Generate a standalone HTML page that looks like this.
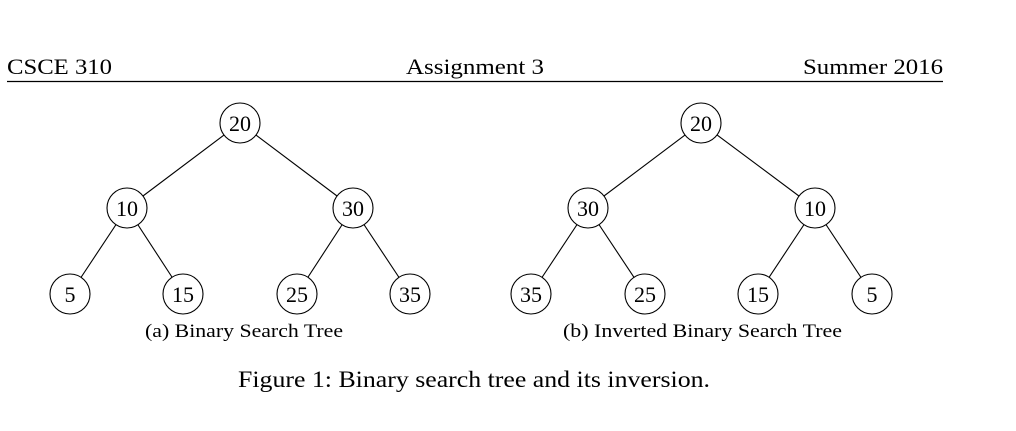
<!DOCTYPE html>
<html><head><style>
body{margin:0;background:#fff;width:1016px;height:426px;overflow:hidden}
text{font-family:"Liberation Serif",serif;fill:#000}
</style></head><body>
<svg width="1016" height="426" xmlns="http://www.w3.org/2000/svg">
<text x="7" y="74" font-size="22" textLength="105" lengthAdjust="spacingAndGlyphs">CSCE 310</text>
<text x="406" y="74" font-size="22" textLength="138" lengthAdjust="spacingAndGlyphs">Assignment 3</text>
<text x="803" y="74" font-size="22" textLength="140" lengthAdjust="spacingAndGlyphs">Summer 2016</text>
<line x1="7" y1="81.5" x2="943" y2="81.5" stroke="#000" stroke-width="1.2"/>
<g stroke="#000" stroke-width="1.1">
<line x1="240" y1="123" x2="127" y2="208"/><line x1="240" y1="123" x2="353" y2="208"/>
<line x1="127" y1="208" x2="70" y2="294"/><line x1="127" y1="208" x2="183" y2="294"/>
<line x1="353" y1="208" x2="297" y2="294"/><line x1="353" y1="208" x2="410" y2="294"/>
<line x1="701" y1="123" x2="588" y2="208"/><line x1="701" y1="123" x2="815" y2="208"/>
<line x1="588" y1="208" x2="531" y2="294"/><line x1="588" y1="208" x2="645" y2="294"/>
<line x1="815" y1="208" x2="758" y2="294"/><line x1="815" y1="208" x2="872" y2="294"/>
</g>
<g stroke="#000" stroke-width="1.1" fill="#fff">
<circle cx="240" cy="123" r="20"/><circle cx="127" cy="208" r="20"/><circle cx="353" cy="208" r="20"/>
<circle cx="70" cy="294" r="20"/><circle cx="183" cy="294" r="20"/><circle cx="297" cy="294" r="20"/><circle cx="410" cy="294" r="20"/>
<circle cx="701" cy="123" r="20"/><circle cx="588" cy="208" r="20"/><circle cx="815" cy="208" r="20"/>
<circle cx="531" cy="294" r="20"/><circle cx="645" cy="294" r="20"/><circle cx="758" cy="294" r="20"/><circle cx="872" cy="294" r="20"/>
</g>
<g font-size="22" text-anchor="middle">
<text x="240" y="131">20</text><text x="127" y="216">10</text><text x="353" y="216">30</text>
<text x="70" y="302">5</text><text x="183" y="302">15</text><text x="297" y="302">25</text><text x="410" y="302">35</text>
<text x="701" y="131">20</text><text x="588" y="216">30</text><text x="815" y="216">10</text>
<text x="531" y="302">35</text><text x="645" y="302">25</text><text x="758" y="302">15</text><text x="872" y="302">5</text>
</g>
<text x="145" y="337" font-size="19" textLength="198" lengthAdjust="spacingAndGlyphs">(a) Binary Search Tree</text>
<text x="563" y="337" font-size="19" textLength="279" lengthAdjust="spacingAndGlyphs">(b) Inverted Binary Search Tree</text>
<text x="238" y="387" font-size="23" textLength="472" lengthAdjust="spacingAndGlyphs">Figure 1: Binary search tree and its inversion.</text>
</svg>
</body></html>
